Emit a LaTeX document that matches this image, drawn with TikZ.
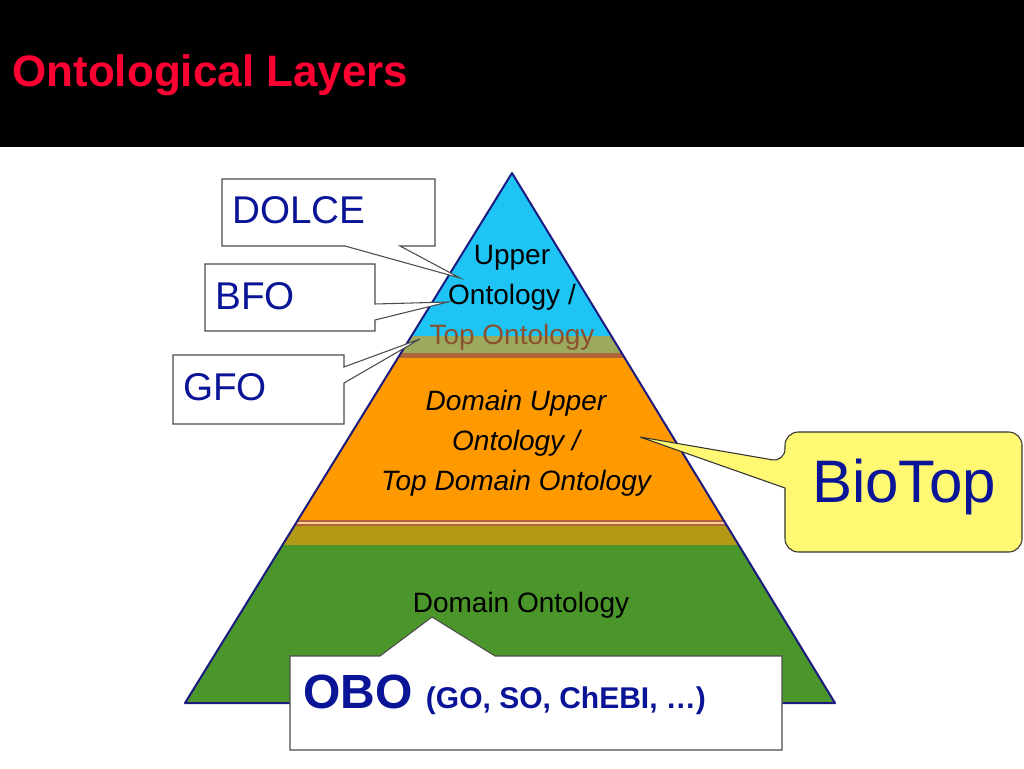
\documentclass[tikz,border=0pt]{standalone}
\usepackage{fontspec}
\setmainfont{Liberation Sans}
\usetikzlibrary{positioning}
\definecolor{cyanup}{HTML}{1EC4F4}
\definecolor{oliveup}{HTML}{9CAA5E}
\definecolor{orangemid}{HTML}{FF9900}
\definecolor{brownline}{HTML}{B0643A}
\definecolor{olivelow}{HTML}{B39A16}
\definecolor{greenlow}{HTML}{4A962A}
\definecolor{navy}{HTML}{1A1A80}
\definecolor{txtblue}{HTML}{0A1496}
\definecolor{titlered}{HTML}{FF0033}
\tikzset{
  layertext/.style={inner sep=0pt, align=center, font=\fontsize{21}{30}\selectfont},
  calloutbox/.style={draw=black!70, fill=white, line width=0.8pt},
  labeltext/.style={inner sep=0pt, anchor=west, text=txtblue, font=\fontsize{29}{34}\selectfont}
}
\begin{document}
\begin{tikzpicture}[x=0.75pt, y=-0.75pt]
	\useasboundingbox[fill=white] (0,0) rectangle (1024,768);
	% title bar
	\fill[black] (0,0) rectangle (1024,147);
	\node[anchor=west, inner sep=0pt, text=titlered, font=\fontsize{33}{36}\selectfont\bfseries] (title) at (12,75) {Ontological Layers};

	% pyramid bands
	\begin{scope}
		\clip (512,173) -- (835,703) -- (185,703) -- cycle;
		\fill[cyanup] (150,170) rectangle (870,336);
		\fill[oliveup] (150,336) rectangle (870,353);
		\fill[brownline] (150,353) rectangle (870,358);
		\fill[orangemid] (150,358) rectangle (870,520);
		\fill[brownline] (150,520) rectangle (870,526);
		\fill[orange!40!white] (150,522) rectangle (870,524);
		\fill[olivelow] (150,526) rectangle (870,545);
		\fill[greenlow] (150,545) rectangle (870,705);
	\end{scope}
	\draw[navy, line width=1.5pt, line join=round] (512,173) -- (835,703) -- (185,703) -- cycle;

	\node[layertext] (upper) at (512,298) {Upper\\Ontology /\\\textcolor{brownline!80!black}{Top Ontology}};
	\node[layertext, font=\fontsize{21}{30}\selectfont\itshape] (domup) at (516,443) {Domain Upper\\Ontology /\\Top Domain Ontology};
	\node[layertext] (domain) at (521,605) {Domain Ontology};

	% callouts
	\draw[calloutbox] (222,179) -- (435,179) -- (435,246) -- (400,246) -- (460,278) -- (345,246) -- (222,246) -- cycle;
	\node[labeltext] (dolce) at (232,210) {DOLCE};

	\draw[calloutbox] (205,264) -- (375,264) -- (375,304) -- (448,302) -- (375,320) -- (375,331) -- (205,331) -- cycle;
	\node[labeltext] (bfo) at (215,296) {BFO};

	\draw[calloutbox] (173,355) -- (344,355) -- (344,367) -- (420,339) -- (344,383) -- (344,424) -- (173,424) -- cycle;
	\node[labeltext] (gfo) at (183,387) {GFO};

	\draw[black!80, fill=yellow!55!white, line width=0.8pt, rounded corners=10pt] (785,462) [sharp corners] -- (640,437) -- (785,488) [rounded corners=10pt] -- (785,552) -- (1022,552) -- (1022,432) -- (785,432) -- cycle;
	\node[inner sep=0pt, text=txtblue, font=\fontsize{45}{50}\selectfont] (biotop) at (904,487) {BioTop};

	\draw[calloutbox] (290,656) -- (380,656) -- (432,617) -- (495,656) -- (782,656) -- (782,750) -- (290,750) -- cycle;
	\node[inner sep=0pt, anchor=west, text=txtblue, font=\bfseries] (obo) at (303,695) {\fontsize{36}{40}\selectfont OBO \fontsize{22.5}{26}\selectfont (GO, SO, ChEBI, …)};
\end{tikzpicture}
\end{document}
